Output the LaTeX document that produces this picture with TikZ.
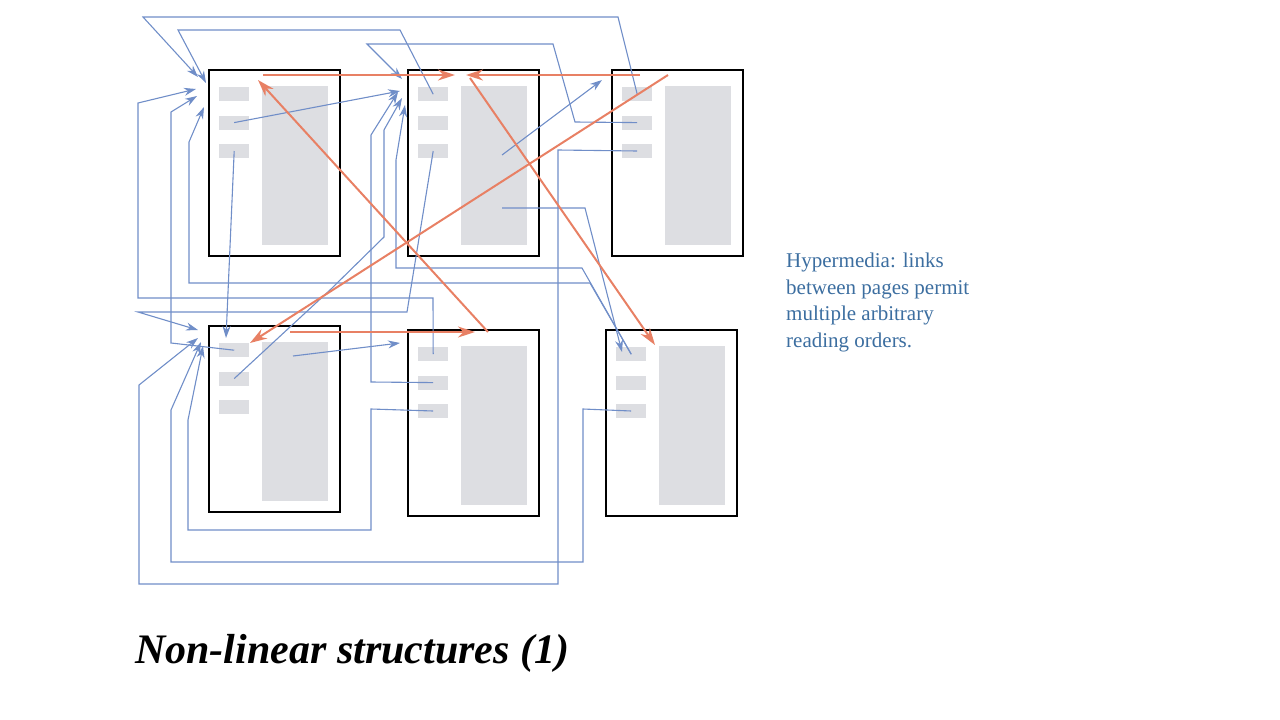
\documentclass[tikz,border=0pt]{standalone}
\usepackage{fontspec}
\setmainfont{Liberation Serif}
\usetikzlibrary{
	calc,
	arrows.meta,
	positioning,
}
\definecolor{linkblue}{RGB}{112,142,200}
\definecolor{linkred}{RGB}{232,128,100}
\definecolor{blockgray}{RGB}{221,222,226}
\definecolor{textblue}{RGB}{60,110,160}
\tikzset{
	page/.style={draw=black, line width=1.6pt, minimum width=131pt, minimum height=186pt, inner sep=0pt, anchor=north west},
	blk/.style={fill=blockgray, minimum width=30pt, minimum height=14pt, inner sep=0pt},
	body/.style={fill=blockgray, minimum width=66pt, minimum height=159pt, inner sep=0pt},
	blue link/.style={draw=linkblue, line width=1.1pt, -{Stealth[length=12pt,width=8pt]}},
	blue line/.style={draw=linkblue, line width=1.1pt},
	red link/.style={draw=linkred, line width=2pt, -{Stealth[length=17pt,width=11pt]}},
}
\newcommand\pagebox[3]{%
	\node[page] (#1) at (#2,#3) {};
	\node[blk, below right=18pt and 11pt of #1.north west, anchor=north west] (#1a) {};
	\node[blk, below=14pt of #1a] (#1b) {};
	\node[blk, below=14pt of #1b] (#1c) {};
	\node[body, below right=17pt and 54pt of #1.north west, anchor=north west] (#1body) {};
}
\begin{document}
\begin{tikzpicture}[x=1pt, y=-1pt]
	\useasboundingbox (0,0) rectangle (1280,720);
	\pagebox{p1}{208}{69}
	\pagebox{p2}{407}{69}
	\pagebox{p3}{611}{69}
	\pagebox{p4}{208}{325}
	\pagebox{p5}{407}{329}
	\pagebox{p6}{605}{329}
	% arrow ends
	\coordinate (in1a) at (198,77);
	\coordinate (in1b) at (206,83);
	\coordinate (in1c) at (196,89);
	\coordinate (in1d) at (197,96);
	\coordinate (in1e) at (204,107);
	\coordinate (in2a) at (402,79);
	\coordinate (in2b) at (400,91);
	\coordinate (in2c) at (398,92);
	\coordinate (in2d) at (402,98);
	\coordinate (in2e) at (405,105);
	\coordinate (in3) at (602,80);
	\coordinate (in4a) at (198,330);
	\coordinate (in4b) at (226,338);
	\coordinate (in4c) at (198,338);
	\coordinate (in4d) at (201,342);
	\coordinate (in4e) at (203,346);
	\coordinate (in5) at (400,343);
	\coordinate (in6) at (622,352);
	\coordinate (src2a) at (502,155);
	\coordinate (src2b) at (502,208);
	\coordinate (src4) at (293,356);
	% blue links
	\draw[blue link] (p3a.center) -- (618,17) -- (143,17) -- (in1a);
	\draw[blue link] (p2a.center) -- (400,30) -- (178,30) -- (in1b);
	\draw[blue link] (p5a.center) -- (433,298) -- (138,298) -- (138,103) -- (in1c);
	\draw[blue link] (p4a.center) -- (171,343) -- (171,112) -- (in1d);
	\draw[blue link] (p6a.center) -- (590,283) -- (189,283) -- (189,142) -- (in1e);
	\draw[blue link] (p1b.center) -- (in2b);
	\draw[blue link] (p1c.center) -- (in4b);
	\draw[blue link] (p3b.center) -- (575,122) -- (553,44) -- (367,44) -- (in2a);
	\draw[blue link] (p5b.center) -- (371,382) -- (371,135) -- (in2c);
	\draw[blue link] (p4b.center) -- (330,290) -- (384,237) -- (384,130) -- (in2d);
	\draw[blue link] (p6a.center) -- (582,268) -- (396,268) -- (396,160) -- (in2e);
	\draw[blue link] (p2c.center) -- (407,312) -- (138,312) -- (in4a);
	\draw[blue link] (src2a) -- (in3);
	\draw[blue link] (src2b) -- (585,208) -- (in6);
	\draw[blue link] (src4) -- (in5);
	\draw[blue link] (p3c.center) -- (558,150) -- (558,584) -- (139,584) -- (139,385) -- (in4c);
	\draw[blue link] (p6c.center) -- (583,409) -- (583,562) -- (171,562) -- (171,410) -- (in4d);
	\draw[blue link] (p5c.center) -- (371,409) -- (371,530) -- (188,530) -- (188,420) -- (in4e);
	% red links
	\coordinate (r1) at (263,75);
	\coordinate (r2) at (640,75);
	\coordinate (r3) at (488,332);
	\coordinate (r4) at (470,78);
	\coordinate (r5) at (668,75);
	\coordinate (r6) at (290,332);
	\coordinate (t1) at (455,75);
	\coordinate (t2) at (466,75);
	\coordinate (t3) at (258,80);
	\coordinate (t4) at (655,345);
	\coordinate (t5) at (250,343);
	\coordinate (t6) at (475,332);
	\draw[red link] (r1) -- (t1);
	\draw[red link] (r2) -- (t2);
	\draw[red link] (r3) -- (t3);
	\draw[red link] (r4) -- (t4);
	\draw[red link] (r5) -- (t5);
	\draw[red link] (r6) -- (t6);
	% texts
	\node[anchor=north west, text=textblue, font=\fontsize{21}{26.5}\selectfont, align=left, inner sep=0pt] (note) at (786,253)
		{Hypermedia: links\\between pages permit\\multiple arbitrary\\reading orders.};
	\node[anchor=west, font=\fontsize{42}{44}\selectfont\bfseries\itshape, inner sep=0pt] (title) at (135,653)
		{Non-linear structures (1)};
\end{tikzpicture}
\end{document}
